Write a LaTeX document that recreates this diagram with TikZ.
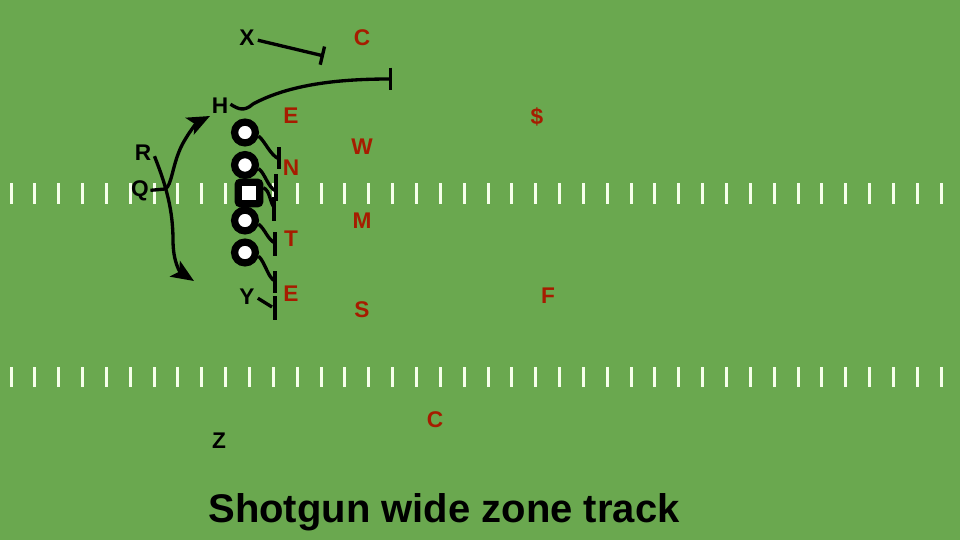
\documentclass[tikz,border=0pt]{standalone}
\usepackage{fontspec}
\setmainfont{Liberation Sans}
\usetikzlibrary{arrows.meta}
\definecolor{field}{HTML}{6AA84F}
\definecolor{defred}{HTML}{A61C00}
\definecolor{hashcol}{HTML}{F6FFEA}
\begin{document}
\begin{tikzpicture}[x=0.75pt,y=-0.75pt,
  off/.style={font=\fontsize{17}{19}\selectfont\bfseries, text=black, inner sep=0pt, anchor=base},
  defn/.style={off, text=defred},
  ring/.style={circle, draw=black, fill=white, line width=5.4pt, minimum size=15.6pt, inner sep=0pt},
  sq/.style={rectangle, draw=black, fill=white, line width=5.4pt, minimum size=16pt, inner sep=0pt, rounded corners=1.5pt},
  route/.style={line width=2.5pt, draw=black},
  tip/.style={-{Stealth[length=17pt,width=14pt,inset=4pt]}},
  hashmark/.style={line width=2.25pt, draw=hashcol}]
\fill[field] (0,0) rectangle (960,540);
\useasboundingbox (0,0) rectangle (960,540);
% hash marks
\foreach \i in {0,...,39} {
  \draw[hashmark] ({11+23.85*\i},183) -- ({11+23.85*\i},204);
  \draw[hashmark] ({11+23.85*\i},367) -- ({11+23.85*\i},387);
}
% offensive line
\node[ring] (o1) at (245,132.5) {};
\node[ring] (o2) at (245,165) {};
\node[sq] (c) at (249,193) {};
\node[ring] (o3) at (245,220.5) {};
\node[ring] (o4) at (245,252.5) {};
% offense labels
\node[off] (X) at (247,45) {X};
\node[off] (H) at (220,113) {H};
\node[off] (R) at (143,160) {R};
\node[off] (Q) at (140,196) {Q};
\node[off] (Y) at (247,304) {Y};
\node[off] (Z) at (219,448) {Z};
% defense labels
\node[defn] (C1) at (362,45) {C};
\node[defn] (E1) at (291,123) {E};
\node[defn] (D) at (537,124) {\$};
\node[defn] (W) at (362,154.5) {W};
\node[defn] (N) at (291,175.5) {N};
\node[defn] (M) at (362,228) {M};
\node[defn] (T) at (291,246.5) {T};
\node[defn] (E2) at (291,301) {E};
\node[defn] (F) at (548,303) {F};
\node[defn] (S) at (362,317.5) {S};
\node[defn] (C2) at (435,427) {C};
% title
\node[font=\fontsize{30}{36}\selectfont\bfseries, anchor=base, inner sep=0pt] (title) at (444,522) {Shotgun wide zone track};
% coordinates
\coordinate (xe) at (324,56);
\coordinate (he) at (392,79);
\coordinate (qe) at (210,116);
\coordinate (re) at (194,281);
\coordinate (b1) at (279,159);
\coordinate (b2) at (276,191);
\coordinate (b3) at (274,207);
\coordinate (b4) at (275,243);
\coordinate (b5) at (275,281);
\coordinate (b6) at (272,307);
% receiver routes
\draw[route, -{Bar[width=14pt]}] ([shift={(3,3)}]X.east) -- (xe);
\draw[route, -{Bar[width=17pt]}] ([shift={(2,-1)}]H.east) .. controls (238,109) and (244,112) .. (253,104) .. controls (290,84) and (340,79) .. (he);
\draw[route, tip] ([xshift=1]Q.east) -- (165,189) .. controls (172,186) and (172,165) .. (182,145) .. controls (190,130) and (198,122) .. (qe);
\draw[route, tip] ([shift={(3,4)}]R.east) .. controls (166,185) and (173,210) .. (173,240) .. controls (173,262) and (180,272) .. (re);
% blocks
\draw[route] (o1.-15) .. controls (265,141) and (270,155) .. (b1);
\draw[route] (279,147) -- (279,169);
\draw[route] (o2.-15) .. controls (265,173) and (268,188) .. (b2);
\draw[route] (276,174) -- (276,201);
\draw[route] (c.20) .. controls (270,190) and (270,203) .. (b3);
\draw[route] (274,197) -- (274,221);
\draw[route] (o3.-15) .. controls (265,229) and (268,240) .. (b4);
\draw[route] (275,232) -- (275,256);
\draw[route] (o4.-15) .. controls (265,262) and (268,278) .. (b5);
\draw[route] (275,271) -- (275,293);
\draw[route] ([shift={(3,2)}]Y.east) -- (b6);
\draw[route] (275,296) -- (275,320);
\end{tikzpicture}
\end{document}
